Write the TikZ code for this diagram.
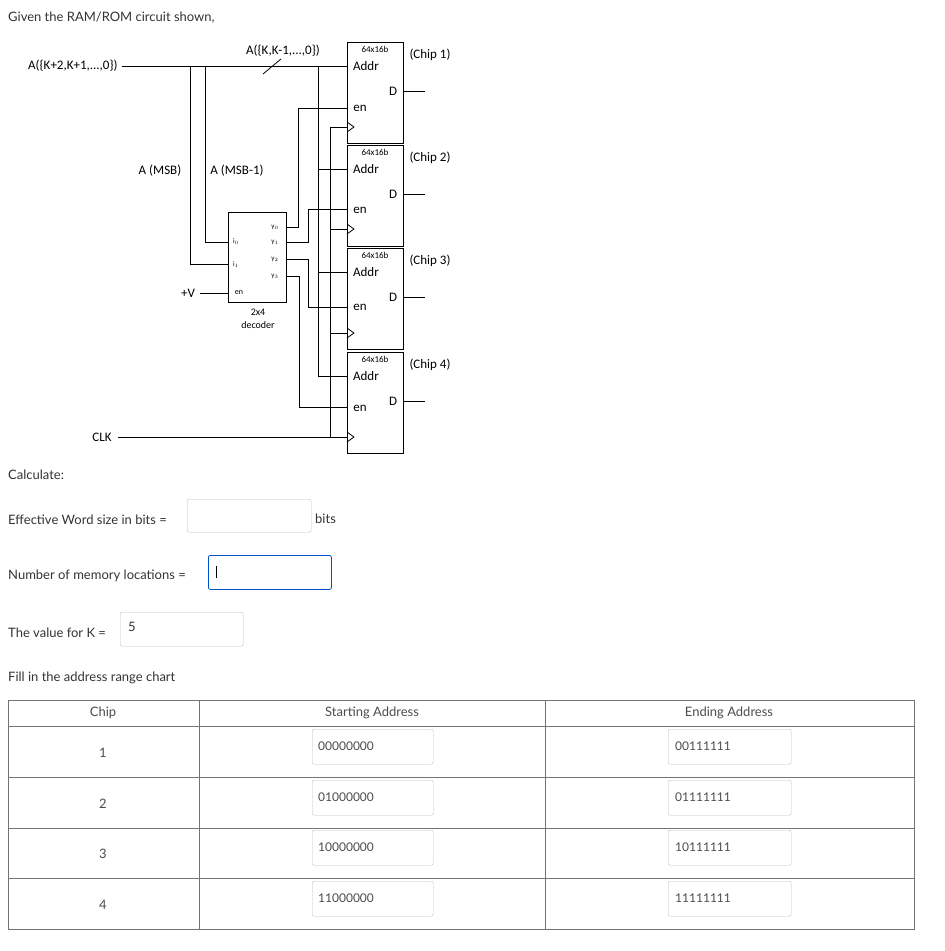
\documentclass[tikz,border=0pt]{standalone}
\usepackage{fontspec}
\setmainfont{Lato}
\newfontfamily\carl{Carlito}
\begin{document}
\begin{tikzpicture}[x=1pt,y=-1pt,
  txt/.style={inner sep=0pt,anchor=west,text=black!80,font=\fontsize{13}{15}\selectfont},
  ctxt/.style={inner sep=0pt,font=\carl\fontsize{13}{15}\selectfont},
  tiny/.style={inner sep=0pt,font=\carl\fontsize{9}{10}\selectfont},
  chip/.style={draw,line width=1pt,minimum width=56pt,anchor=north west,inner sep=0pt},
  wire/.style={line width=0.8pt},
  inbox/.style={draw=black!25,rounded corners=2pt,anchor=north west,inner sep=0pt},
  cell/.style={txt,text=black!70}]
\useasboundingbox (0,0) rectangle (945,951);
\node[txt] (title) at (8,18) {Given the RAM/ROM circuit shown,};
% chips
\foreach \i/\t/\h in {1/42/101,2/145/101,3/248/101,4/352/101}{
  \node[chip,minimum height=\h pt] (c\i) at (347,\t) {};
  \node[tiny] at (375,\t+7) {64x16b};
  \node[ctxt] at (366,\t+24) {Addr};
  \node[ctxt] at (393,\t+49) {D};
  \node[ctxt] at (430,\t+13) {(Chip \i)};
  \coordinate (d\i) at (425,\t+49);
  \draw[wire] (403,\t+49) -- (d\i);
}
\node[ctxt] at (360,108) {en};
\node[ctxt] at (360,210) {en};
\node[ctxt] at (360,307) {en};
\node[ctxt] at (360,408) {en};
% clock triangles
\foreach \y in {127,229,333,437}{\draw[wire] (347,\y-5) -- (354,\y) -- (347,\y+5);}
% bus
\node[ctxt,anchor=west] (bus) at (28,66) {A(\{K+2,K+1,...,0\})};
\draw[wire] (bus.east) ++(4,0) -- (c1.west |- 0,66);
\node[ctxt] at (283,51) {A(\{K,K-1,...,0\})};
\draw[wire] (263,74) -- (281,59);
\draw[wire] (318,66) -- (318,376);
\foreach \y in {169,272,376}{\draw[wire] (318,\y) -- (347,\y);}
% decoder
\node[draw,line width=0.8pt,minimum width=58pt,minimum height=90pt,anchor=north west,inner sep=0pt] (dec) at (228,212) {};
\node[tiny,font=\carl\fontsize{7}{8}\selectfont] at (275,227) {y$_0$};
\node[tiny,font=\carl\fontsize{7}{8}\selectfont] at (275,242) {y$_1$};
\node[tiny,font=\carl\fontsize{7}{8}\selectfont] at (275,259) {y$_2$};
\node[tiny,font=\carl\fontsize{7}{8}\selectfont] at (275,276) {y$_3$};
\node[tiny,font=\carl\fontsize{7}{8}\selectfont] at (236,242) {i$_0$};
\node[tiny,font=\carl\fontsize{7}{8}\selectfont] at (236,265) {i$_1$};
\node[tiny,font=\carl\fontsize{8}{9}\selectfont] at (239,293) {en};
\node[tiny,font=\carl\fontsize{10}{11}\selectfont] at (258,312) {2x4};
\node[tiny,font=\carl\fontsize{10}{11}\selectfont] at (258,325) {decoder};
\draw[wire] (190,66) -- (190,264) -- (228,264);
\draw[wire] (205,66) -- (205,242) -- (228,242);
\node[ctxt] (pv) at (188,293) {+V};
\draw[wire] (200,293) -- (228,293);
\node[ctxt] at (160,171) {A (MSB)};
\node[ctxt] at (237,171) {A (MSB-1)};
\draw[wire] (286,227) -- (298,227) -- (298,108) -- (347,108);
\draw[wire] (286,242) -- (308,242) -- (308,209) -- (347,209);
\draw[wire] (286,259) -- (308,259) -- (308,307) -- (347,307);
\draw[wire] (286,276) -- (299,276) -- (299,407) -- (347,407);
% clock
\node[ctxt] (clk) at (102,437) {CLK};
\draw[wire] (118,437) -- (347,437);
\draw[wire] (330,437) -- (330,127);
\foreach \y in {127,229,333}{\draw[wire] (330,\y) -- (347,\y);}
% form
\node[txt] at (8,475) {Calculate:};
\node[txt] at (8,520) {Effective Word size in bits =};
\node[inbox,minimum width=124pt,minimum height=33pt] (b1) at (187,499) {};
\node[txt] at (315,519) {bits};
\node[txt] at (8,576) {Number of memory locations =};
\node[draw=blue!60!cyan!80!black,line width=0.8pt,rounded corners=2pt,anchor=north west,inner sep=0pt,minimum width=123pt,minimum height=34pt] (b2) at (208,555) {};
\draw (216,566) -- (216,578);
\node[txt] at (8,633) {The value for K =};
\node[inbox,minimum width=123pt,minimum height=34pt] (b3) at (120,612) {};
\node[txt] at (128,627) {5};
\node[txt] at (8,678) {Fill in the address range chart};
% table
\draw[black!55,line width=0.8pt] (8,700) rectangle (914,929);
\foreach \y in {726,777,828,878}{\draw[black!55] (8,\y) -- (914,\y);}
\draw[black!55] (199,700) -- (199,929);
\draw[black!55] (545,700) -- (545,929);
\node[cell,anchor=center] at (103,713) {Chip};
\node[cell,anchor=center] at (372,713) {Starting Address};
\node[cell,anchor=center] at (729,713) {Ending Address};
\foreach \r/\y/\s/\e in {1/746/00000000/00111111,2/797/01000000/01111111,3/847/10000000/10111111,4/898/11000000/11111111}{
  \node[cell,anchor=center] at (103,\y+7) {\r};
  \node[inbox,minimum width=121pt,minimum height=35pt] at (312,\y-17) {};
  \node[cell,font=\fontsize{12}{14}\selectfont] at (318,\y) {\s};
  \node[inbox,minimum width=123pt,minimum height=35pt] at (668,\y-17) {};
  \node[cell,font=\fontsize{12}{14}\selectfont] at (675,\y) {\e};
}
\end{tikzpicture}
\end{document}
